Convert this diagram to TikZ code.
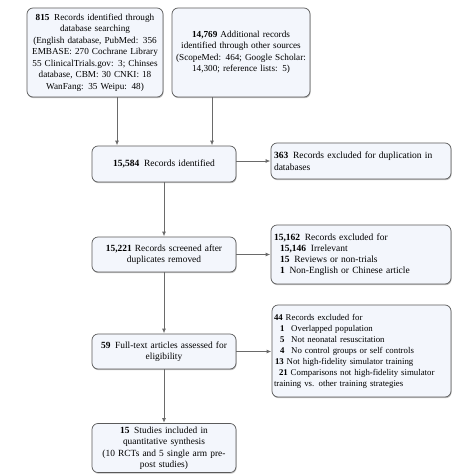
\documentclass[tikz,border=0pt]{standalone}
\usepackage{fontspec}
\setmainfont{Liberation Serif}
\usetikzlibrary{arrows.meta,shadows}
\definecolor{boxfill}{HTML}{F3F6FC}
\definecolor{boxdraw}{HTML}{5A5A5A}
\definecolor{linecol}{HTML}{6A6A6A}
\hyphenpenalty=10000\relax
\exhyphenpenalty=10000\relax
\begin{document}
\begin{tikzpicture}[x=1pt,y=-1pt,
  box/.style={draw=boxdraw, line width=0.7pt, fill=boxfill, rounded corners=6pt,
    inner sep=3pt, font=\fontsize{9.2}{11.5}\selectfont,
    drop shadow={shadow xshift=0.6pt, shadow yshift=-1.2pt, opacity=0.25, fill=black}},
  arr/.style={draw=linecol, line width=0.7pt, -{Latex[length=4.5pt,width=4pt]}, shorten >=0.5pt}]
\useasboundingbox (0,0) rectangle (474,474);
\fill[white] (0,0) rectangle (474,474);

\node[box, minimum width=136pt, minimum height=89pt, text width=130pt, align=center] (b1) at (95,52.5)
 {\textbf{815}\, Records identified through\\ database searching\\ (English database, PubMed: 356\\ EMBASE: 270 Cochrane Library\\ 55 ClinicalTrials.gov: 3; Chinses\\ database, CBM: 30 CNKI: 18\\ WanFang: 35 Weipu: 48)};
\node[box, minimum width=138pt, minimum height=89pt, text width=132pt, align=center] (b2) at (241,52.5)
 {\textbf{14,769} Additional records\\ identified through other sources\\ (ScopeMed: 464; Google Scholar:\\ 14,300; reference lists: 5)};

\node[box, minimum width=144pt, minimum height=36pt, text width=138pt, align=center, font=\fontsize{9.5}{11.5}\selectfont] (b3) at (164,164)
 {\textbf{15,584}\, Records identified};
\node[box, minimum width=180pt, minimum height=36pt, text width=174pt, align=left, font=\fontsize{9.5}{11.5}\selectfont] (b4) at (361,161)
 {\textbf{363}\, Records excluded for duplication in\\ databases};

\node[box, minimum width=144pt, minimum height=35pt, text width=138pt, align=center, font=\fontsize{9.4}{11.5}\selectfont] (b5) at (164,254.5)
 {\textbf{15,221} Records screened after\\ duplicates removed};
\node[box, minimum width=180pt, minimum height=59pt, text width=174pt, align=left, font=\fontsize{9.5}{10.8}\selectfont] (b6) at (361,254.5)
 {\textbf{15,162}\, Records excluded for\\ \hspace*{6pt}\textbf{15,146}\, Irrelevant\\ \hspace*{6pt}\textbf{15}\, Reviews or non-trials\\ \hspace*{6pt}\textbf{1}\, Non-English or Chinese article};

\node[box, minimum width=144pt, minimum height=35pt, text width=138pt, align=center, font=\fontsize{9.4}{11.5}\selectfont] (b7) at (164,351.5)
 {\textbf{59}\, Full-text articles assessed for\\ eligibility};
\node[box, minimum width=179pt, minimum height=92pt, text width=175pt, inner sep=2pt, align=left, font=\fontsize{8.8}{11}\selectfont] (b8) at (361.5,351)
 {\textbf{44} Records excluded for\\ \hspace*{6pt}\textbf{1}\;\, Overlapped population\\ \hspace*{6pt}\textbf{5}\;\, Not neonatal resuscitation\\ \hspace*{6pt}\textbf{4}\;\, No control groups or self controls\\ \hspace*{1pt}\textbf{13} Not high-fidelity simulator training\\ \hspace*{5pt}\textbf{21} Comparisons not high-fidelity simulator\\ training vs. other training strategies};

\node[box, minimum width=144pt, minimum height=48pt, text width=138pt, align=center, font=\fontsize{9.4}{11.5}\selectfont] (b9) at (164,448)
 {\textbf{15}\, Studies included in\\ quantitative synthesis\\ (10 RCTs and 5 single arm pre-\\ post studies)};

\coordinate (x1) at (117,0);
\coordinate (x2) at (212,0);
\draw[arr] (b1.south -| x1) -- (b3.north -| x1);
\draw[arr] (b2.south -| x2) -- (b3.north -| x2);
\draw[arr] (b3.east |- b4.west) -- (b4.west);
\draw[arr] (b3) -- (b5);
\draw[arr] (b5.east) -- (b6.west |- b5.east);
\draw[arr] (b5) -- (b7);
\draw[arr] (b7.east) -- (b8.west |- b7.east);
\draw[arr] (b7) -- (b9);
\end{tikzpicture}
\end{document}
